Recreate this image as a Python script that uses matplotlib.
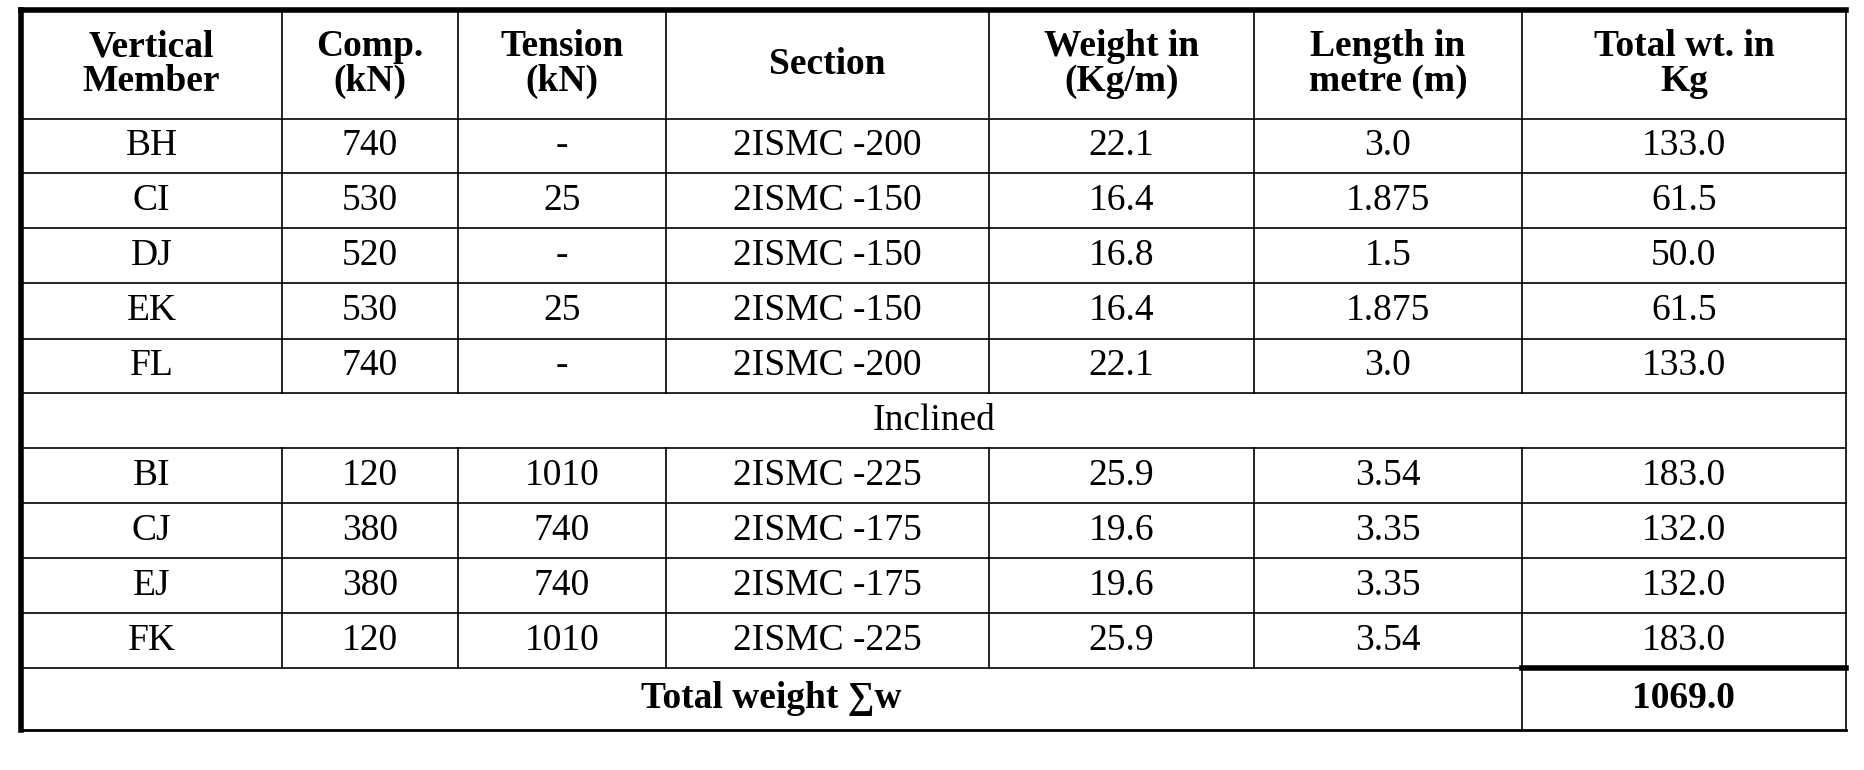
import matplotlib.pyplot as plt

# Table contents
header = ["Vertical\nMember", "Comp.\n(kN)", "Tension\n(kN)", "Section",
          "Weight in\n(Kg/m)", "Length in\nmetre (m)", "Total wt. in\nKg"]
vertical_rows = [
    ["BH", "740", "-", "2ISMC -200", "22.1", "3.0", "133.0"],
    ["CI", "530", "25", "2ISMC -150", "16.4", "1.875", "61.5"],
    ["DJ", "520", "-", "2ISMC -150", "16.8", "1.5", "50.0"],
    ["EK", "530", "25", "2ISMC -150", "16.4", "1.875", "61.5"],
    ["FL", "740", "-", "2ISMC -200", "22.1", "3.0", "133.0"],
]
inclined_rows = [
    ["BI", "120", "1010", "2ISMC -225", "25.9", "3.54", "183.0"],
    ["CJ", "380", "740", "2ISMC -175", "19.6", "3.35", "132.0"],
    ["EJ", "380", "740", "2ISMC -175", "19.6", "3.35", "132.0"],
    ["FK", "120", "1010", "2ISMC -225", "25.9", "3.54", "183.0"],
]
total_label = "Total weight ∑w"
total_value = "1069.0"

# Grid layout (pixel space of a 1568 x 648 canvas)
col_x = [18, 237, 385, 560, 832, 1055, 1280, 1553]
row_y = [8, 100, 146, 192, 238, 285, 331, 377, 423, 470, 516, 562, 614]

fig = plt.figure(figsize=(18.64, 7.70), dpi=100)
ax = fig.add_axes([0, 0, 1, 1])
ax.set_xlim(0, 1568)
ax.set_ylim(648, 0)
ax.axis("off")

serif = ["Liberation Serif", "DejaVu Serif"]
fs = 27
lw = 1.2

def cx(i):
    return (col_x[i] + col_x[i + 1]) / 2

def cy(j):
    return (row_y[j] + row_y[j + 1]) / 2

# header
for i, h in enumerate(header):
    ax.text(cx(i), cy(0), h, ha="center", va="center", fontsize=fs,
            fontweight="bold", family=serif, linespacing=1.0)

for k, row in enumerate(vertical_rows):
    for i, v in enumerate(row):
        ax.text(cx(i), cy(1 + k), v, ha="center", va="center", fontsize=fs, family=serif)

ax.text((col_x[0] + col_x[-1]) / 2, cy(6), "Inclined", ha="center", va="center",
        fontsize=fs, family=serif)

for k, row in enumerate(inclined_rows):
    for i, v in enumerate(row):
        ax.text(cx(i), cy(7 + k), v, ha="center", va="center", fontsize=fs, family=serif)

ax.text((col_x[0] + col_x[6]) / 2, cy(11), total_label, ha="center", va="center",
        fontsize=fs, fontweight="bold", family=serif)
ax.text(cx(6), cy(11), total_value, ha="center", va="center",
        fontsize=fs, fontweight="bold", family=serif)

# horizontal lines
for y in row_y[1:-1]:
    ax.plot([col_x[0], col_x[-1]], [y, y], color="black", lw=lw)
ax.plot([col_x[0], col_x[-1]], [row_y[0], row_y[0]], color="black", lw=4)
ax.plot([col_x[0], col_x[-1]], [row_y[-1], row_y[-1]], color="black", lw=2)
ax.plot([col_x[6], col_x[-1]], [row_y[11], row_y[11]], color="black", lw=4)

# vertical lines
ax.plot([col_x[0], col_x[0]], [row_y[0], row_y[-1]], color="black", lw=4)
ax.plot([col_x[-1], col_x[-1]], [row_y[0], row_y[-1]], color="black", lw=lw)
for x in col_x[1:-1]:
    ax.plot([x, x], [row_y[0], row_y[6]], color="black", lw=lw)
    ax.plot([x, x], [row_y[7], row_y[11]], color="black", lw=lw)
ax.plot([col_x[6], col_x[6]], [row_y[11], row_y[12]], color="black", lw=lw)

fig.savefig("out.png", dpi=100)
